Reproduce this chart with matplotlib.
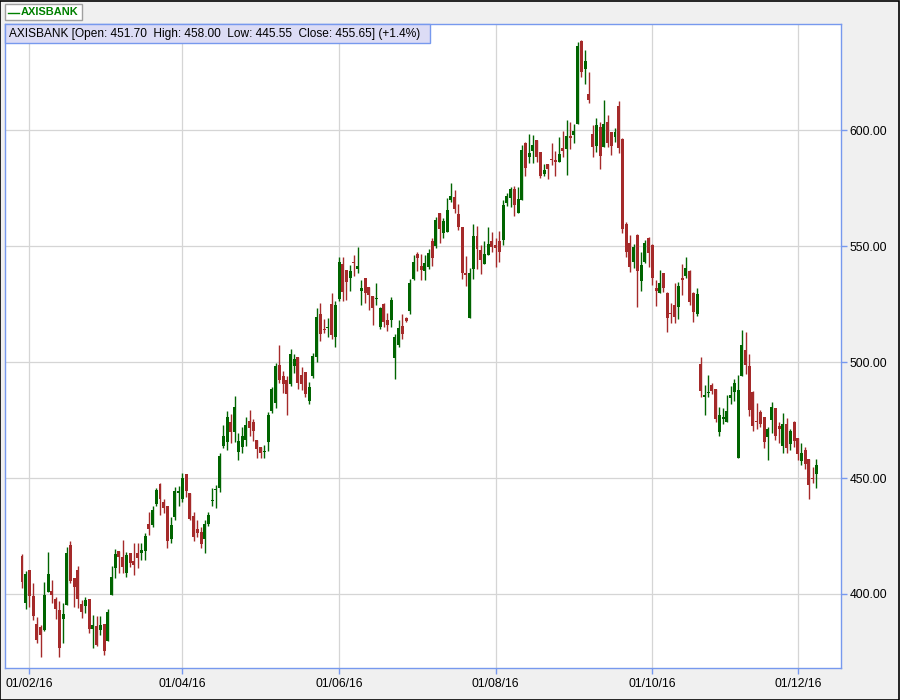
import pandas as pd
import numpy as np
import matplotlib
matplotlib.use('Agg')
import matplotlib.pyplot as plt
from matplotlib.patches import Rectangle
from matplotlib.lines import Line2D

plt.rcParams['font.family'] = ['Liberation Sans', 'DejaVu Sans']

symbol = 'AXISBANK'

# market holidays (weekdays) in the period, as they show in the data
holidays = ['2016-03-07', '2016-03-24', '2016-03-25', '2016-04-14',
            '2016-07-06', '2016-08-15', '2016-09-05', '2016-09-13',
            '2016-10-11', '2016-10-12', '2016-10-31', '2016-11-14']

# daily OHLC
opens = [416.4, 396.1, 410.3, 399.1, 387.1, 385.8, 384.5, 400.9, 401.3, 397.8,
         393.1, 389.2, 395.3, 421.1, 406.9, 410.3, 395.7, 394.8, 397.8, 384.9,
         386.2, 384.5, 387.1, 379.7, 399.6, 411.2, 418.5, 415.9, 409.1, 417.7,
         414.2, 417.7, 417.7, 418.7, 430.2, 429.7, 438.8, 447.4, 439.7, 437.9,
         423.7, 433.3, 443.7, 440.9, 451.7, 443.5, 433.6, 428.0, 426.6, 423.7,
         430.2, 440.0, 445.0, 445.8, 463.8, 465.6, 474.1, 470.0, 461.3, 463.2,
         466.4, 474.6, 474.1, 466.4, 463.5, 461.1, 465.6, 479.0, 482.5, 498.7,
         494.0, 492.2, 490.5, 498.3, 502.3, 494.4, 495.8, 483.2, 494.0, 502.3,
         520.7, 514.4, 514.7, 525.0, 510.6, 527.0, 542.2, 539.7, 536.3, 543.1,
         540.2, 530.4, 536.1, 532.2, 528.4, 527.3, 515.3, 525.0, 518.1, 518.1,
         501.9, 507.3, 515.5, 519.1, 522.1, 535.8, 546.6, 541.4, 539.4, 541.1,
         552.2, 550.0, 564.1, 555.7, 556.2, 569.8, 571.0, 563.8, 558.0, 538.2,
         518.8, 540.0, 554.3, 548.3, 542.2, 546.1, 552.3, 550.3, 552.2, 552.6,
         568.7, 570.5, 574.4, 564.4, 569.8, 594.3, 588.5, 591.1, 595.7, 590.4,
         581.0, 585.2, 587.1, 587.1, 586.4, 592.4, 591.7, 597.4, 597.8, 602.6,
         638.4, 626.2, 615.5, 598.3, 593.1, 601.4, 592.6, 603.4, 599.3, 596.9,
         610.3, 596.3, 559.5, 551.4, 543.2, 554.7, 535.0, 542.9, 553.3, 550.4,
         532.0, 529.9, 538.5, 529.6, 521.3, 524.6, 523.8, 536.3, 537.1, 539.4,
         529.9, 520.7, 499.1, 485.1, 486.8, 490.1, 488.4, 470.0, 475.3, 474.3,
         484.4, 486.9, 458.8, 494.1, 505.2, 498.3, 487.2, 474.6, 478.4, 476.4,
         467.8, 475.0, 480.0, 472.4, 463.9, 473.3, 464.7, 474.1, 467.1, 457.5,
         462.1, 458.1, 449.9, 451.70]
highs = [417.2, 409.9, 410.3, 404.7, 390.1, 386.6, 405.2, 418.1, 406.0, 398.7,
         397.0, 396.1, 420.3, 422.8, 406.9, 412.1, 397.4, 398.7, 397.8, 390.9,
         390.5, 390.5, 387.1, 393.5, 412.1, 419.4, 418.5, 423.3, 418.1, 417.7,
         422.0, 422.0, 422.0, 426.3, 435.3, 437.9, 445.7, 447.8, 441.1, 437.9,
         433.3, 446.3, 446.6, 452.2, 451.7, 443.5, 435.5, 431.9, 429.0, 431.9,
         435.5, 445.8, 447.0, 460.6, 472.8, 478.9, 477.4, 485.3, 469.3, 472.1,
         476.4, 479.3, 475.4, 466.4, 463.5, 464.2, 478.6, 489.4, 499.7, 507.3,
         496.3, 494.0, 505.7, 503.3, 502.3, 497.8, 495.8, 491.5, 503.7, 523.1,
         525.6, 518.5, 518.8, 529.9, 526.3, 545.4, 545.4, 539.7, 541.8, 546.1,
         549.7, 535.5, 536.1, 532.2, 528.4, 534.2, 523.9, 525.6, 521.0, 528.2,
         511.9, 518.1, 520.7, 519.5, 535.6, 546.1, 547.5, 546.6, 546.1, 548.8,
         553.6, 562.6, 564.1, 562.2, 570.6, 577.0, 574.1, 568.1, 558.0, 545.7,
         540.4, 559.5, 558.6, 550.4, 552.2, 558.3, 556.0, 553.3, 556.5, 569.8,
         572.7, 575.6, 576.0, 575.3, 593.5, 595.0, 598.3, 597.8, 595.7, 590.4,
         585.2, 585.2, 594.3, 591.1, 597.1, 599.6, 604.3, 603.6, 602.5, 638.1,
         638.8, 634.5, 625.0, 602.2, 605.3, 603.6, 612.9, 606.5, 599.3, 600.7,
         612.5, 596.7, 560.2, 554.7, 550.9, 555.0, 547.5, 552.6, 554.0, 550.9,
         535.3, 539.7, 538.5, 530.3, 525.6, 534.2, 534.6, 542.1, 545.4, 539.7,
         530.3, 531.8, 502.3, 490.1, 494.4, 491.1, 488.4, 480.7, 480.0, 485.8,
         489.7, 492.5, 494.4, 513.8, 512.8, 503.3, 487.5, 482.5, 479.3, 476.4,
         472.1, 482.9, 480.0, 474.3, 477.9, 475.7, 471.1, 474.6, 467.1, 465.0,
         463.2, 458.1, 454.6, 458.00]
lows = [402.6, 393.5, 394.4, 388.8, 378.9, 372.8, 384.1, 400.9, 396.1, 389.2,
        372.8, 378.9, 395.3, 404.7, 394.4, 394.0, 389.7, 391.8, 383.2, 376.7,
        377.6, 382.3, 373.7, 379.7, 399.6, 406.9, 409.1, 409.1, 407.3, 411.6,
        408.2, 411.2, 414.7, 414.7, 425.4, 428.9, 437.9, 434.2, 434.9, 419.8,
        422.1, 431.9, 437.9, 439.8, 441.9, 431.9, 422.8, 424.7, 420.0, 417.5,
        429.4, 437.9, 437.2, 444.1, 463.1, 462.1, 465.0, 465.6, 457.8, 460.9,
        463.8, 468.1, 466.1, 458.5, 458.5, 458.8, 461.6, 478.1, 480.3, 490.8,
        486.5, 477.3, 489.8, 495.4, 488.4, 487.9, 485.0, 481.9, 493.0, 500.1,
        509.2, 512.6, 510.9, 509.8, 506.6, 526.3, 526.3, 526.7, 530.6, 537.1,
        538.2, 524.4, 525.6, 522.4, 515.9, 524.6, 514.1, 515.0, 513.5, 515.0,
        492.8, 506.6, 510.0, 517.4, 520.7, 535.3, 539.4, 535.3, 535.3, 540.1,
        541.5, 549.3, 551.2, 553.3, 556.2, 569.1, 564.1, 556.9, 535.6, 532.9,
        518.8, 535.6, 540.0, 537.9, 542.2, 546.1, 547.5, 541.1, 543.1, 550.4,
        567.2, 567.0, 562.9, 564.4, 569.8, 580.2, 585.7, 585.7, 586.4, 579.4,
        580.3, 578.8, 584.9, 580.3, 586.0, 588.5, 580.6, 591.8, 594.5, 602.6,
        622.7, 619.8, 611.8, 588.5, 590.6, 583.2, 592.6, 592.8, 589.2, 594.7,
        590.2, 555.7, 545.4, 538.9, 540.6, 523.6, 530.7, 542.5, 541.1, 533.2,
        524.1, 529.9, 530.3, 513.1, 517.0, 517.0, 518.4, 528.9, 536.1, 524.6,
        517.4, 519.8, 484.8, 477.2, 484.8, 486.2, 474.3, 468.1, 473.3, 474.3,
        481.9, 483.3, 458.8, 494.1, 494.8, 476.7, 470.3, 471.0, 472.1, 462.8,
        457.8, 469.3, 466.4, 465.2, 460.9, 460.9, 462.1, 463.5, 457.8, 455.6,
        453.9, 441.0, 447.7, 445.55]
closes = [405.2, 408.6, 399.1, 390.5, 380.2, 382.3, 399.6, 408.6, 399.6, 393.5,
          376.7, 391.4, 417.7, 405.6, 403.0, 397.8, 392.2, 397.4, 384.9, 386.6,
          378.0, 386.6, 375.4, 392.2, 407.3, 417.2, 415.9, 411.6, 416.8, 413.4,
          412.5, 415.5, 419.0, 425.0, 428.0, 436.2, 444.8, 441.1, 437.2, 423.0,
          429.7, 444.4, 444.4, 450.0, 444.4, 432.5, 424.7, 426.4, 421.7, 430.2,
          434.1, 440.5, 445.4, 459.5, 468.1, 476.3, 470.0, 480.7, 465.9, 468.1,
          472.7, 471.7, 470.4, 462.4, 460.9, 461.8, 477.3, 488.4, 498.3, 492.2,
          490.5, 486.2, 503.3, 501.2, 490.8, 490.5, 486.2, 489.4, 502.6, 519.3,
          512.1, 513.8, 515.1, 511.6, 524.6, 543.1, 530.3, 534.6, 539.2, 542.8,
          541.4, 531.9, 529.9, 528.9, 523.4, 527.6, 523.1, 517.4, 516.0, 526.7,
          510.6, 514.5, 512.0, 517.8, 534.2, 543.1, 544.8, 539.7, 542.8, 547.1,
          544.7, 561.2, 557.2, 560.8, 565.5, 571.6, 565.8, 558.3, 538.2, 537.5,
          538.5, 554.3, 548.8, 544.0, 546.6, 550.9, 549.7, 549.3, 547.5, 567.7,
          571.6, 574.4, 567.7, 570.3, 591.4, 583.5, 590.2, 593.5, 588.5, 580.3,
          582.8, 583.3, 586.9, 586.4, 589.5, 591.1, 597.4, 596.7, 599.6, 636.2,
          625.2, 629.7, 612.9, 592.6, 602.2, 588.8, 602.6, 594.5, 593.2, 599.0,
          592.1, 557.3, 547.5, 541.1, 549.4, 539.4, 541.8, 551.2, 546.8, 536.1,
          530.7, 534.2, 531.8, 518.8, 520.8, 519.3, 532.8, 535.3, 540.4, 526.0,
          521.7, 529.3, 487.6, 485.8, 487.2, 487.6, 475.4, 477.2, 476.4, 478.9,
          485.8, 490.8, 487.9, 507.3, 498.7, 479.3, 472.5, 474.0, 473.3, 465.6,
          471.0, 480.5, 468.1, 471.0, 473.3, 462.8, 470.4, 466.1, 460.2, 460.6,
          456.0, 447.0, 449.4, 455.65]

dates = pd.bdate_range('2016-01-28', '2016-12-31', freq='C', holidays=holidays)[:len(closes)]

o = np.array(opens)
h = np.array(highs)
l = np.array(lows)
c = np.array(closes)
x = np.arange(len(c))

up = c >= o
cols = np.where(up, '#006400', '#a52a2a')
body_lo = np.minimum(o, c)
body_h = np.maximum(np.abs(c - o), 0.45)

fig = plt.figure(figsize=(9, 7), dpi=100, facecolor='#f0f0f0')
ax = fig.add_axes([5 / 900, 1 - 668 / 700, 836 / 900, 644 / 700])
ax.set_facecolor('white')

ax.vlines(x, l, h, colors=cols, linewidth=1.0, zorder=3)
ax.bar(x, body_h, bottom=body_lo, width=0.8, color=cols, linewidth=0, zorder=4)

ax.set_xlim(-4.56, 219.6)
ax.set_ylim(368.1, 645.7)

# ticks at the first trading day of every second month
tick_pos = []
tick_lab = []
for m in [2, 4, 6, 8, 10, 12]:
    idx = np.where(dates.month == m)[0]
    if len(idx):
        tick_pos.append(idx[0])
        tick_lab.append('01/%02d/16' % m)
ax.set_xticks(tick_pos)
ax.set_xticklabels(tick_lab)

yt = [400, 450, 500, 550, 600]
ax.yaxis.tick_right()
ax.set_yticks(yt)
ax.set_yticklabels(['%.2f' % v for v in yt])

blue = '#7799ee'
ax.tick_params(axis='both', colors=blue, labelcolor='black', labelsize=8.7, length=4, width=1)
ax.tick_params(axis='y', pad=2)
ax.tick_params(axis='x', pad=3)
ax.grid(True, color='#d5d5d5', linewidth=0.9, zorder=0)
ax.set_axisbelow(True)
for s in ax.spines.values():
    s.set_color(blue)
    s.set_linewidth(1.0)

# outer frame
fig.add_artist(Rectangle((0.0005, 0.0005), 0.998, 0.998, transform=fig.transFigure,
                         facecolor='none', edgecolor='black', linewidth=1.2, zorder=10))

# legend box
fig.add_artist(Rectangle((5 / 900, 1 - 20 / 700), 77 / 900, 16 / 700, transform=fig.transFigure,
                         facecolor='white', edgecolor='#a0a0a0', linewidth=1, zorder=5))
fig.add_artist(Line2D([8 / 900, 19 / 900], [1 - 12.5 / 700, 1 - 12.5 / 700], transform=fig.transFigure,
                      color='#008000', linewidth=1.0, zorder=6))
fig.text(20.5 / 900, 1 - 12 / 700, symbol, color='#008000', fontsize=7.9, fontweight='bold',
         va='center', ha='left', zorder=6)

# info box with last candle
pct = (c[-1] / c[-2] - 1) * 100
info = '%s [Open: %.2f  High: %.2f  Low: %.2f  Close: %.2f] (%+.1f%%)' % (symbol, o[-1], h[-1], l[-1], c[-1], pct)
fig.add_artist(Rectangle((5 / 900, 1 - 43 / 700), 425 / 900, 19 / 700, transform=fig.transFigure,
                         facecolor='#dcdcf5', edgecolor=blue, linewidth=1, zorder=5))
fig.text(9 / 900, 1 - 33.5 / 700, info, color='black', fontsize=8.6, va='center', ha='left', zorder=6)

fig.savefig('out.png', dpi=100, facecolor=fig.get_facecolor())
